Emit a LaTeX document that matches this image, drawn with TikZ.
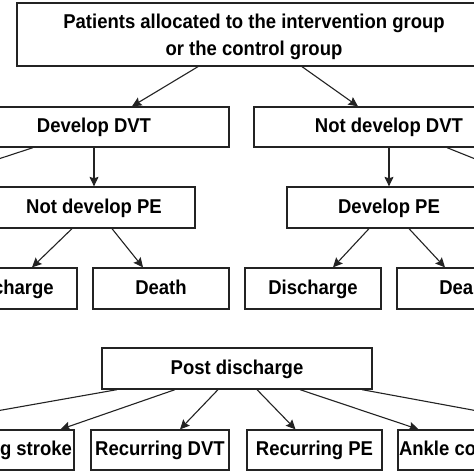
\documentclass[tikz,border=0pt]{standalone}
\usepackage{fontspec}
\setmainfont[FakeStretch=0.925]{Liberation Sans}
\usetikzlibrary{arrows.meta}
\definecolor{ink}{RGB}{35,35,35}
\begin{document}
\begin{tikzpicture}[x=1pt,y=-1pt,
  box/.style={draw=ink, line width=1.3pt, rectangle, inner xsep=0pt, inner ysep=0pt,
    minimum height=40pt, text height=14.3pt, text depth=3pt,
    font=\fontsize{20}{26.7}\selectfont\bfseries, text=black},
  arr/.style={draw=ink, line width=1.1pt, -{Stealth[length=9.5pt,width=9pt,inset=1.5pt]}}]
\useasboundingbox (0,0) rectangle (474,474);
\clip (0,0) rectangle (474,474);
\fill[white] (0,0) rectangle (474,474);
% nodes
\node[box, minimum width=474pt, minimum height=63pt, text height=52pt, text depth=11pt] (top) at (254,34.5)
  {\begin{tabular}[b]{@{}c@{}}Patients allocated to the intervention group\\or the control group\end{tabular}};
\node[box, minimum width=270pt] (ddvt) at (94,127) {Develop DVT};
\node[box, minimum width=270pt] (nddvt) at (389,127) {Not develop DVT};
\node[box, minimum width=202pt, minimum height=41pt] (ndpe) at (94,207.5) {Not develop PE};
\node[box, minimum width=204pt, minimum height=41pt] (dpe) at (389,207.5) {Develop PE};
\node[box, minimum width=136pt, minimum height=41pt] (dis1) at (9,288.5) {\phantom{Dis}charge};
\node[box, minimum width=136pt, minimum height=41pt] (dea1) at (161,288.5) {Death};
\node[box, minimum width=136pt, minimum height=41pt] (dis2) at (313,288.5) {Discharge};
\node[box, minimum width=136pt, minimum height=41pt] (dea2) at (465,288.5) {Dea\phantom{th}};
\node[box, minimum width=270pt, minimum height=41pt] (post) at (237,368.5) {Post discharge};
\node[box, minimum width=137pt] (b1) at (5.5,450) {\makebox[133pt][r]{g stroke}};
\node[box, minimum width=138pt] (b2) at (160,450) {Recurring DVT};
\node[box, minimum width=135pt] (b3) at (314.5,450) {Recurring PE};
\node[box, minimum width=137pt] (b4) at (466.5,450) {\makebox[135pt][l]{Ankle co}};
% free ends (outside the frame)
\coordinate (f1) at (-87,187);
\coordinate (f2) at (545,187);
\coordinate (f3) at (-111,430);
\coordinate (f4) at (581,430);
% connectors
\draw[arr] ([xshift=-56pt]top.south) -- ([xshift=38pt]ddvt.north);
\draw[arr] ([xshift=48pt]top.south) -- ([xshift=-31pt]nddvt.north);
\draw[arr] ([xshift=-61pt]ddvt.south) -- (f1);
\draw[arr] (ddvt.south) -- (ndpe.north);
\draw[arr] (nddvt.south) -- (dpe.north);
\draw[arr] ([xshift=58pt]nddvt.south) -- (f2);
\draw[arr] ([xshift=-22pt]ndpe.south) -- ([xshift=23pt]dis1.north);
\draw[arr] ([xshift=18pt]ndpe.south) -- ([xshift=-18pt]dea1.north);
\draw[arr] ([xshift=-20pt]dpe.south) -- ([xshift=20pt]dis2.north);
\draw[arr] ([xshift=20pt]dpe.south) -- ([xshift=-20pt]dea2.north);
\draw[arr] ([xshift=-120pt]post.south) -- (f3);
\draw[arr] ([xshift=-62pt]post.south) -- ([xshift=55pt]b1.north);
\draw[arr] ([xshift=-19pt]post.south) -- ([xshift=20pt]b2.north);
\draw[arr] ([xshift=20pt]post.south) -- ([xshift=-19pt]b3.north);
\draw[arr] ([xshift=63pt]post.south) -- ([xshift=-48pt]b4.north);
\draw[arr] ([xshift=125pt]post.south) -- (f4);
\end{tikzpicture}
\end{document}
